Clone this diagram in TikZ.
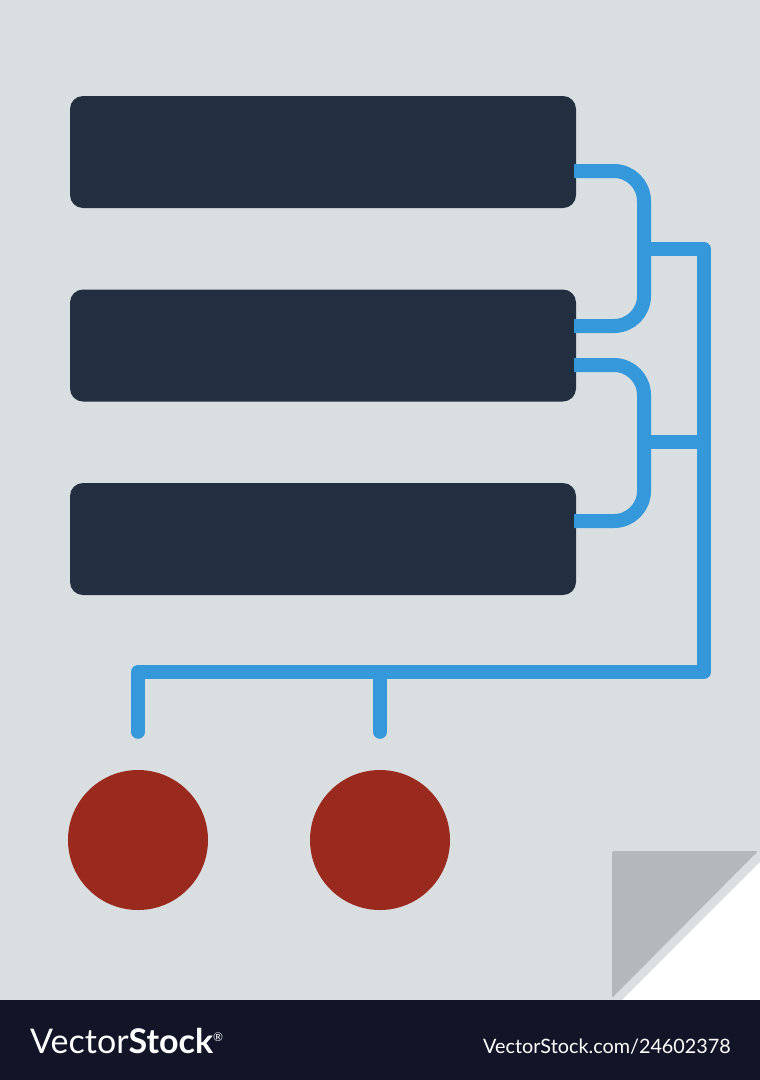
\documentclass[tikz,border=0pt]{standalone}
\usepackage{fontspec}
\newfontfamily\wmfont{Lato}
\usetikzlibrary{calc}
\definecolor{pagebg}{HTML}{D9DEE1}
\definecolor{barcol}{HTML}{212F40}
\definecolor{linkcol}{HTML}{3498DB}
\definecolor{dotcol}{HTML}{992A1D}
\definecolor{foldcol}{HTML}{B5B8BB}
\definecolor{footcol}{HTML}{121427}
\tikzset{
  bar/.style={fill=barcol, draw=none, rounded corners=13pt, minimum width=506pt, minimum height=112pt, inner sep=0pt},
  dot/.style={circle, fill=dotcol, draw=none, minimum size=140pt, inner sep=0pt},
  link/.style={draw=linkcol, line width=14pt, line join=round},
  bracket/.style={link, rounded corners=30pt},
  foot/.style={text=white, inner sep=0pt, anchor=base west}
}
\begin{document}
\begin{tikzpicture}[x=1pt,y=-1pt]
\useasboundingbox (0,0) rectangle (760,1080);
% page
\fill[pagebg] (0,0) rectangle (760,1000);
\fill[white] (760,862) -- (760,1000) -- (622,1000) -- cycle;
\fill[foldcol, rounded corners=2pt] (612,851) -- (758,851) -- (612,998) -- cycle;
% footer
\fill[footcol] (0,1000) rectangle (760,1080);
\node[foot] (brand) at (30,1053) {\wmfont\fontsize{34}{34}\selectfont Vector\textbf{Stock}\raisebox{12pt}{\fontsize{12}{12}\selectfont ®}};
\node[foot] (url) at (483,1053) {\wmfont\fontsize{19.8}{20}\selectfont VectorStock.com/24602378};
% bars
\node[bar] (b1) at (323,152) {};
\node[bar] (b2) at (323,345.5) {};
\node[bar] (b3) at (323,539) {};
% circles
\node[dot] (c1) at (138,840) {};
\node[dot] (c2) at (380,840) {};
% connectors
\coordinate (m1) at (644,249);
\coordinate (m2) at (644,442);
\coordinate (r1) at (704,249);
\coordinate (r2) at (704,442);
\coordinate (rb) at (704,672);
\coordinate (t2) at (380,672);
\coordinate (e1) at ($(c1.north)+(0,-38)$);
\coordinate (e2) at ($(c2.north)+(0,-38)$);
\draw[bracket] ($(b1.east)+(-2,19)$) -| (m1) |- ($(b2.east)+(-2,-19.5)$);
\draw[bracket] ($(b2.east)+(-2,19.5)$) -| (m2) |- ($(b3.east)+(-2,-18)$);
\draw[link, line cap=round] (m1) -- (r1) -- (rb) -| (e1);
\draw[link] (m2) -- (r2);
\draw[link, line cap=round] (t2) -- (e2);
\end{tikzpicture}
\end{document}
